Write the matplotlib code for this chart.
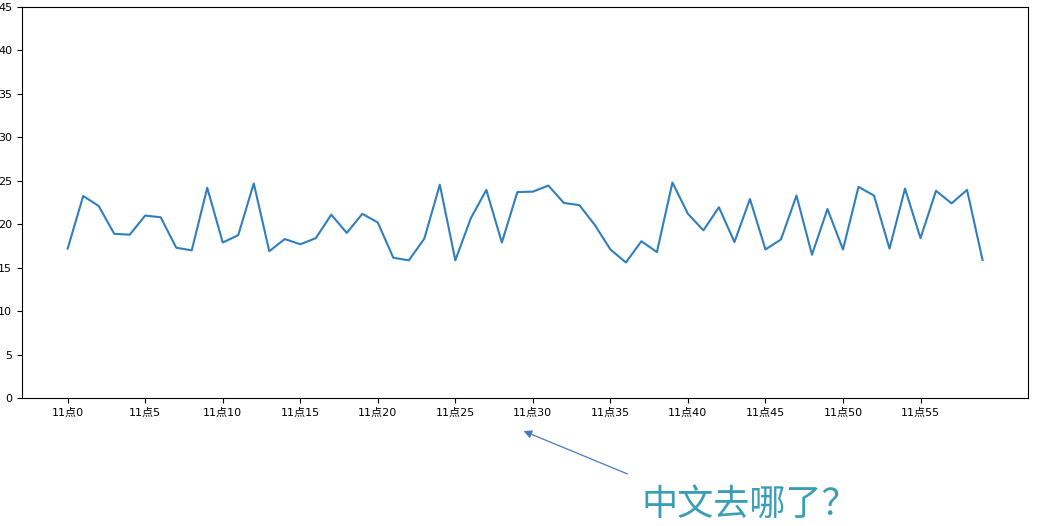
import matplotlib
matplotlib.use("Agg")
import matplotlib.pyplot as plt

minutes = list(range(60))
values = [17.2, 23.25, 22.1, 18.9, 18.8, 21.0, 20.8, 17.3, 17.0, 24.2,
          17.9, 18.75, 24.7, 16.9, 18.3, 17.7, 18.4, 21.1, 19.0, 21.2,
          20.2, 16.15, 15.85, 18.35, 24.55, 15.85, 20.7, 23.95, 17.9, 23.7,
          23.75, 24.45, 22.45, 22.2, 19.9, 17.1, 15.6, 18.05, 16.8, 24.8,
          21.2, 19.3, 21.95, 17.95, 22.9, 17.1, 18.25, 23.3, 16.5, 21.75,
          17.1, 24.3, 23.3, 17.2, 24.1, 18.4, 23.85, 22.4, 23.95, 15.9]
tick_pos = minutes[::5]
tick_labels = ["11点{}".format(m) for m in tick_pos]

fig = plt.figure(figsize=(10.45, 5.26), dpi=100)
ax = fig.add_axes([0.021, 0.243, 0.963, 0.744])
ax.plot(minutes, values, color="#2f7fbd", linewidth=1.5)
ax.set_ylim(0, 45)
ax.set_yticks(range(0, 46, 5))
ax.set_xticks(tick_pos)
ax.set_xticklabels(tick_labels, family=["DejaVu Sans", "Noto Sans CJK SC"])
ax.tick_params(labelsize=8)

fig.text(0.718, 0.040, "中文去哪了？", fontsize=26, color="#3a9fb6",
         family=["Noto Sans CJK SC", "DejaVu Sans"], ha="center", va="center")
ax.annotate("", xy=(521 / 1045, 1 - 430 / 526), xycoords="figure fraction",
            xytext=(630 / 1045, 1 - 475 / 526), textcoords="figure fraction",
            arrowprops=dict(arrowstyle="-|>", color="#4a78c0", lw=0.9,
                            mutation_scale=12), annotation_clip=False)

fig.savefig("out.png", dpi=100)
